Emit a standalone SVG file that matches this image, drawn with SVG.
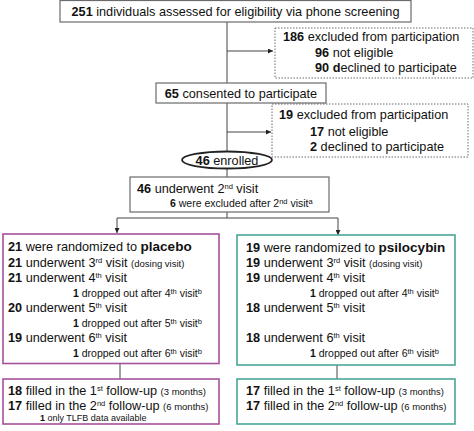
<svg xmlns="http://www.w3.org/2000/svg" width="474" height="431" viewBox="0 0 474 431">
<defs>
<marker id="ah" viewBox="0 0 10 10" refX="10" refY="5" markerWidth="5" markerHeight="5" orient="auto" markerUnits="userSpaceOnUse"><path d="M0,0 L10,5 L0,10 Z" fill="#222"/></marker>
</defs>
<style>
text{font-family:"Liberation Sans",Arial,sans-serif;fill:#111;font-size:12.7px}
.b{font-weight:bold}
.s{font-size:10.5px}
.xs{font-size:9.5px}
.t{font-size:9px}
.sup{font-size:7.5px}
.box{fill:#fff;stroke:#6a6a6a;stroke-width:1.2}
.dash{fill:#fff;stroke:#6a6a6a;stroke-width:1;stroke-dasharray:1.5,1.5}
.mag{fill:#fff;stroke:#a6519c;stroke-width:1.6}
.teal{fill:#fff;stroke:#4aa797;stroke-width:1.6}
.ln{fill:none;stroke:#444;stroke-width:1}
</style>
<g id="connectors">
<path class="ln" d="M227,22 V83"/>
<path class="ln" d="M227,51 H273" marker-end="url(#ah)"/>
<path class="ln" d="M227,103 V151.5"/>
<path class="ln" d="M227,132 H271" marker-end="url(#ah)"/>
<path class="ln" d="M227,168.5 V177"/>
<path class="ln" d="M227,212 V218 M117,218 H338"/>
<path class="ln" d="M117,218 V233" marker-end="url(#ah)"/>
<path class="ln" d="M338,218 V235" marker-end="url(#ah)"/>
<path class="ln" d="M120,364 V379"/>
<path class="ln" d="M337,365 V379"/>
</g>
<g id="screen">
<rect class="box" x="60" y="0.5" width="351" height="21.5"/>
<text x="235.5" y="16" text-anchor="middle"><tspan class="b">251</tspan> individuals assessed for eligibility via phone screening</text>
</g>
<g id="excl1">
<rect class="dash" x="275" y="28" width="198" height="50"/>
<text x="283" y="41"><tspan class="b">186</tspan> excluded from participation</text>
<text x="315" y="57"><tspan class="b">96</tspan> not eligible</text>
<text x="315" y="72"><tspan class="b">90 d</tspan>eclined to participate</text>
</g>
<g id="consent">
<rect class="box" x="156" y="83" width="170" height="20"/>
<text x="241" y="97.5" text-anchor="middle"><tspan class="b">65</tspan> consented to participate</text>
</g>
<g id="excl2">
<rect class="dash" x="272" y="104" width="196" height="53"/>
<text x="279" y="119"><tspan class="b">19</tspan> excluded from participation</text>
<text x="310" y="136"><tspan class="b">17</tspan> not eligible</text>
<text x="310" y="151"><tspan class="b">2</tspan> declined to participate</text>
</g>
<g id="enrolled">
<ellipse cx="227" cy="160" rx="45" ry="8.5" fill="#fff" stroke="#222" stroke-width="1.8"/>
<text x="227" y="164.5" text-anchor="middle"><tspan class="b">46</tspan> enrolled</text>
</g>
<g id="visit2">
<rect class="box" x="130" y="177" width="199" height="35"/>
<text x="137" y="193"><tspan class="b">46</tspan> underwent 2<tspan class="sup" dy="-4">nd</tspan><tspan dy="4"> visit</tspan></text>
<text class="s" x="170" y="207"><tspan class="b">6</tspan> were excluded after 2<tspan class="sup" dy="-3">nd</tspan><tspan dy="3"> visit</tspan><tspan class="sup" dy="-3">a</tspan></text>
</g>
<g id="placebo">
<rect class="mag" x="3" y="234" width="216" height="129.5"/>
<text x="8" y="251"><tspan class="b">21</tspan> were randomized to <tspan class="b" font-size="13.5">placebo</tspan></text>
<text x="8" y="266.5"><tspan class="b">21</tspan> underwent 3<tspan class="sup" dy="-4">rd</tspan><tspan dy="4"> visit </tspan><tspan class="xs">(dosing visit)</tspan></text>
<text x="8" y="281.5"><tspan class="b">21</tspan> underwent 4<tspan class="sup" dy="-4">th</tspan><tspan dy="4"> visit</tspan></text>
<text class="s" x="73" y="297"><tspan class="b">1</tspan> dropped out after 4<tspan class="sup" dy="-3">th</tspan><tspan dy="3"> visit</tspan><tspan class="sup" dy="-3">b</tspan></text>
<text x="8" y="312"><tspan class="b">20</tspan> underwent 5<tspan class="sup" dy="-4">th</tspan><tspan dy="4"> visit</tspan></text>
<text class="s" x="73" y="327"><tspan class="b">1</tspan> dropped out after 5<tspan class="sup" dy="-3">th</tspan><tspan dy="3"> visit</tspan><tspan class="sup" dy="-3">b</tspan></text>
<text x="8" y="342"><tspan class="b">19</tspan> underwent 6<tspan class="sup" dy="-4">th</tspan><tspan dy="4"> visit</tspan></text>
<text class="s" x="73" y="357"><tspan class="b">1</tspan> dropped out after 6<tspan class="sup" dy="-3">th</tspan><tspan dy="3"> visit</tspan><tspan class="sup" dy="-3">b</tspan></text>
</g>
<g id="placebo-fu">
<rect class="mag" x="3" y="379" width="216" height="45"/>
<text x="8" y="395"><tspan class="b">18</tspan> filled in the 1<tspan class="sup" dy="-4">st</tspan><tspan dy="4"> follow-up </tspan><tspan class="xs">(3 months)</tspan></text>
<text x="8" y="410"><tspan class="b">17</tspan> filled in the 2<tspan class="sup" dy="-4">nd</tspan><tspan dy="4"> follow-up </tspan><tspan class="xs">(6 months)</tspan></text>
<text class="t" x="40" y="421"><tspan class="b">1</tspan> only TLFB data available</text>
</g>
<g id="psilocybin">
<rect class="teal" x="237" y="235" width="218" height="130"/>
<text x="246" y="251.5"><tspan class="b">19</tspan> were randomized to <tspan class="b" font-size="13.5">psilocybin</tspan></text>
<text x="246" y="266.5"><tspan class="b">19</tspan> underwent 3<tspan class="sup" dy="-4">rd</tspan><tspan dy="4"> visit </tspan><tspan class="xs">(dosing visit)</tspan></text>
<text x="246" y="281.5"><tspan class="b">19</tspan> underwent 4<tspan class="sup" dy="-4">th</tspan><tspan dy="4"> visit</tspan></text>
<text class="s" x="310" y="297"><tspan class="b">1</tspan> dropped out after 4<tspan class="sup" dy="-3">th</tspan><tspan dy="3"> visit</tspan><tspan class="sup" dy="-3">b</tspan></text>
<text x="246" y="312"><tspan class="b">18</tspan> underwent 5<tspan class="sup" dy="-4">th</tspan><tspan dy="4"> visit</tspan></text>
<text x="246" y="342"><tspan class="b">18</tspan> underwent 6<tspan class="sup" dy="-4">th</tspan><tspan dy="4"> visit</tspan></text>
<text class="s" x="310" y="357"><tspan class="b">1</tspan> dropped out after 6<tspan class="sup" dy="-3">th</tspan><tspan dy="3"> visit</tspan><tspan class="sup" dy="-3">b</tspan></text>
</g>
<g id="psilocybin-fu">
<rect class="teal" x="237" y="379" width="218" height="45"/>
<text x="246" y="395"><tspan class="b">17</tspan> filled in the 1<tspan class="sup" dy="-4">st</tspan><tspan dy="4"> follow-up </tspan><tspan class="xs">(3 months)</tspan></text>
<text x="246" y="410"><tspan class="b">17</tspan> filled in the 2<tspan class="sup" dy="-4">nd</tspan><tspan dy="4"> follow-up </tspan><tspan class="xs">(6 months)</tspan></text>
</g>
</svg>
